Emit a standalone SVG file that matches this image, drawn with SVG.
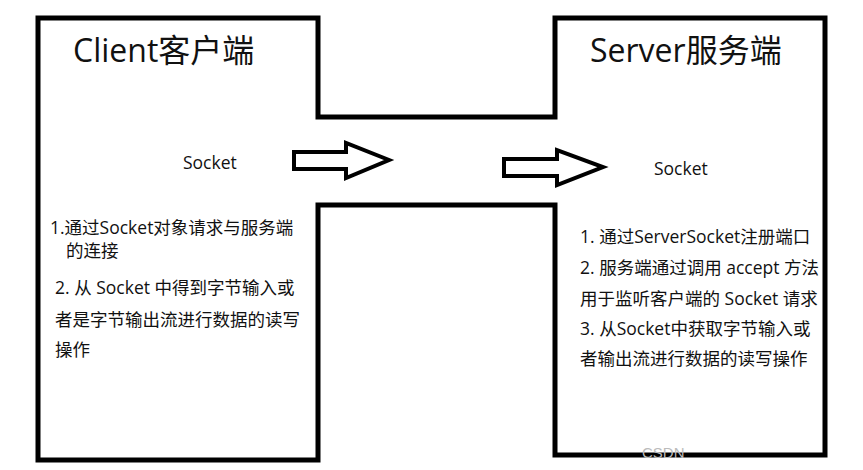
<svg xmlns="http://www.w3.org/2000/svg" width="863" height="470" viewBox="0 0 863 470">
<style>
.t{font-family:"Open Sans","Noto Sans CJK SC",sans-serif;fill:#111}
.h{font-size:32px}
.s{font-size:17.5px}
.b{font-size:17.5px}
.ol{fill:none;stroke:#000;stroke-width:5;stroke-linejoin:miter}
.ar{fill:#fff;stroke:#000;stroke-width:4;stroke-linejoin:miter}
</style>
<rect width="863" height="470" fill="#fff"/>
<g id="frame">
<path class="ol" d="M38,18 H318 V117 H555 V18 H825 V455 H555 V205 H318 V460 H38 Z"/>
</g>
<g id="client">
<text class="t h" x="73" y="62">Client客户端</text>
<text class="t s" x="183" y="169">Socket</text>
<text class="t b" x="50" y="234">1.通过Socket对象请求与服务端</text>
<text class="t b" x="66" y="257">的连接</text>
<text class="t b" x="55" y="294">2. 从 Socket 中得到字节输入或</text>
<text class="t b" x="55" y="326">者是字节输出流进行数据的读写</text>
<text class="t b" x="55" y="356">操作</text>
</g>
<g id="server">
<text class="t h" x="590" y="62">Server服务端</text>
<text class="t s" x="654" y="175">Socket</text>
<text class="t b" x="580" y="243">1. 通过ServerSocket注册端口</text>
<text class="t b" x="580" y="274">2. 服务端通过调用 accept 方法</text>
<text class="t b" x="580" y="305">用于监听客户端的 Socket 请求</text>
<text class="t b" x="580" y="335">3. 从Socket中获取字节输入或</text>
<text class="t b" x="580" y="365">者输出流进行数据的读写操作</text>
</g>
<g id="connectors">
<path class="ar" d="M294,152 H346 V143 L389,160 L346,178 V169 H294 Z"/>
<path class="ar" d="M504,159 H557 V150 L603,167 L557,185 V176 H504 Z"/>
</g>
<text x="642" y="458" font-family="Liberation Sans,sans-serif" font-size="15" fill="#bbb">CSDN</text>
</svg>
